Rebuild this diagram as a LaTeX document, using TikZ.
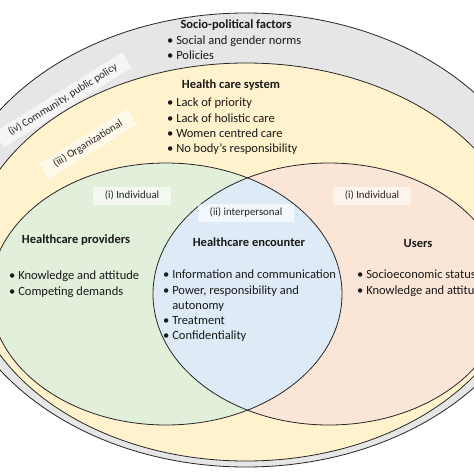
\documentclass[tikz,border=0pt]{standalone}
\usepackage{fontspec}
\setmainfont{Carlito}
\usetikzlibrary{positioning}

\definecolor{socgrey}{RGB}{231,230,230}
\definecolor{orgyellow}{RGB}{255,242,204}
\definecolor{provgreen}{RGB}{226,239,218}
\definecolor{userorange}{RGB}{251,229,214}
\definecolor{encblue}{RGB}{222,235,247}

\tikzset{
  ring/.style={draw=black!85, line width=0.8pt},
  head/.style={font=\fontsize{12.5}{15}\selectfont\bfseries, text=black!90, inner sep=0pt},
  bul/.style={font=\fontsize{12.5}{15}\selectfont, text=black!90, anchor=west, inner sep=0pt, text height=1.6ex, text depth=.4ex},
  lvl/.style={font=\fontsize{10.8}{13}\selectfont, text=black!85, fill=white, fill opacity=0.6, text opacity=1, inner xsep=12pt, inner ysep=0pt, minimum height=18pt, text height=1.6ex, text depth=.4ex},
}

\begin{document}
\begin{tikzpicture}[x=1pt,y=-1pt]

\useasboundingbox (0,0) rectangle (474,474);
\clip (0,0) rectangle (474,474);
\fill[white] (0,0) rectangle (474,474);

%%% Ebenen
\filldraw[ring, fill=socgrey] (246,240) ellipse [x radius=300, y radius=227];
\filldraw[ring, fill=orgyellow] (246,262) ellipse [x radius=278, y radius=199];

\fill[provgreen] (166,294) ellipse [x radius=176, y radius=131];
\fill[userorange] (329,294) ellipse [x radius=176, y radius=131];
\begin{scope}
  \clip (166,294) ellipse [x radius=176, y radius=131];
  \fill[encblue] (329,294) ellipse [x radius=176, y radius=131];
\end{scope}
\draw[ring] (166,294) ellipse [x radius=176, y radius=131];
\draw[ring] (329,294) ellipse [x radius=176, y radius=131];

%%% Ebenen-Labels
\node[lvl, rotate=32] (community) at (63,100) {(iv) Community, public policy};
\node[lvl, rotate=32] (organizational) at (88,144) {(iii) Organizational};
\node[lvl] (indivleft) at (132,196) {(i) Individual};
\node[lvl] (interpers) at (246,212.5) {(ii) interpersonal};
\node[lvl] (indivright) at (372,196) {(i) Individual};

%% Socio-political factors
\node[head] (socio) at (236,25) {Socio-political factors};
\node[bul] (norms) at (167,42) {• Social and gender norms};
\node[bul] (policies) at (167,57) {• Policies};

%% Health care system
\node[head] (hcsystem) at (231,85) {Health care system};
\node[bul] (priority) at (167,104) {• Lack of priority};
\node[bul] (holistic) at (167,119.3) {• Lack of holistic care};
\node[bul] (women) at (167,134.6) {• Women centred care};
\node[bul] (nobody) at (167,150) {• No body’s responsibility};

%% Healthcare providers
\node[head] (providers) at (76,240) {Healthcare providers};
\node[bul] (provknow) at (9,277) {• Knowledge and attitude};
\node[bul] (competing) at (9,292.5) {• Competing demands};

%% Healthcare encounter
\node[head] (encounter) at (249,242) {Healthcare encounter};
\node[bul] (info) at (163,276) {• Information and communication};
\node[bul] (power) at (163,291.3) {• Power, responsibility and};
\node[bul] (autonomy) at (163,306.6) {\phantom{• }autonomy};
\node[bul] (treatment) at (163,322) {• Treatment};
\node[bul] (confid) at (163,337) {• Confidentiality};

%% Users
\node[head] (users) at (418,243) {Users};
\node[bul] (socioeco) at (357,276) {• Socioeconomic status};
\node[bul] (userknow) at (357,291.5) {• Knowledge and attitude};

\end{tikzpicture}
\end{document}
